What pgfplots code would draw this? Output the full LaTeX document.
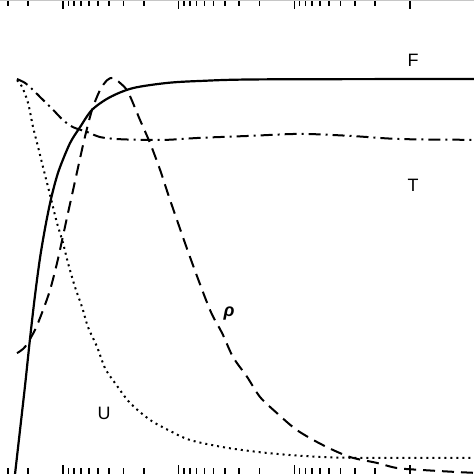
\documentclass[border=0pt]{standalone}
\usepackage{pgfplots}
\pgfplotsset{compat=1.18}
\usepackage{fontspec}
\setmainfont{Liberation Sans}
\begin{document}
\begin{tikzpicture}
\begin{axis}[
  scale only axis, width=474bp, height=474bp,
  xmin=-0.553, xmax=3.545, ymin=0, ymax=1.2, x dir=reverse,
  axis line style={draw=none},
  xtick={0,1,2,3},
  minor xtick={0.301,0.477,0.602,0.699,0.778,0.845,0.903,0.954,
               1.301,1.477,1.602,1.699,1.778,1.845,1.903,1.954,
               2.301,2.477,2.602,2.699,2.778,2.845,2.903,2.954,
               3.301,3.477},
  xticklabels={}, ytick=\empty,
  xtick pos=both, tick align=inside,
  major tick length=9bp, minor tick length=6bp,
  every tick/.style={black, line width=1.6bp},
  clip=true,
]
% F (solid)
\addplot[black, line width=2.2bp, smooth] coordinates {
(3.415,0) (3.372,0.111) (3.328,0.225) (3.285,0.344) (3.242,0.453) (3.199,0.547)
(3.155,0.623) (3.112,0.686) (3.069,0.737) (3.026,0.777) (2.939,0.838) (2.853,0.878)
(2.749,0.922) (2.594,0.954) (2.395,0.977) (2.101,0.990) (1.816,0.995) (1.297,0.999) (-0.553,1.0)};
% rho (dashed)
\addplot[black, line width=2bp, smooth, dash pattern=on 12bp off 7bp] coordinates {
(3.398,0.306) (3.328,0.322) (3.242,0.365) (3.173,0.415) (3.112,0.466) (3.052,0.534)
(3.008,0.592) (2.957,0.661) (2.913,0.719) (2.862,0.787) (2.811,0.853) (2.749,0.922)
(2.680,0.972) (2.619,0.997) (2.567,1.003) (2.507,0.990) (2.438,0.967) (2.334,0.896)
(2.248,0.838) (2.161,0.770) (2.075,0.694) (1.902,0.549) (1.729,0.415) (1.625,0.357)
(1.530,0.296) (1.409,0.246) (1.297,0.195) (1.150,0.154) (0.977,0.111) (0.752,0.073)
(0.519,0.043) (0.285,0.028) (0.112,0.015) (-0.112,0.010) (-0.406,0.005) (-0.553,0.003)};
% U (dotted)
\addplot[black, line width=2bp, smooth, dash pattern=on 2bp off 4bp] coordinates {
(3.398,0.997) (3.354,0.980) (3.302,0.939) (3.259,0.878) (3.216,0.828) (3.173,0.777)
(3.130,0.727) (3.095,0.686) (3.052,0.635) (3.000,0.585) (2.957,0.534) (2.896,0.473)
(2.836,0.423) (2.784,0.372) (2.706,0.322) (2.637,0.268) (2.550,0.230) (2.421,0.180)
(2.248,0.137) (2.075,0.109) (1.902,0.086) (1.617,0.068) (1.323,0.056) (1.037,0.048)
(0.752,0.043) (0.458,0.041) (-0.553,0.041)};
% T (dash-dot)
\addplot[black, line width=2bp, smooth, dash pattern=on 12bp off 5bp on 2bp off 5bp] coordinates {
(3.398,1.0) (3.328,0.990) (3.259,0.972) (3.173,0.947) (3.086,0.922) (3.000,0.896)
(2.913,0.878) (2.792,0.866) (2.680,0.853) (2.533,0.848) (2.334,0.846) (2.101,0.846)
(1.816,0.851) (1.383,0.856) (0.951,0.861) (0.519,0.856) (0.086,0.848) (-0.553,0.846)};
\node[font=\fontsize{18}{20}\selectfont] at (axis cs:-0.026,1.046) {F};
\node[font=\fontsize{18}{20}\selectfont] at (axis cs:-0.026,0.732) {T};
\node[font=\fontsize{18}{20}\selectfont\bfseries\itshape] at (axis cs:1.565,0.405) {ρ};
\node[font=\fontsize{18}{20}\selectfont] at (axis cs:2.645,0.154) {U};
\end{axis}
\draw[gray!45, line width=2.5bp] (current axis.north west) -- (current axis.north east);
\pgfresetboundingbox
\path[use as bounding box] (current axis.south west) rectangle (current axis.north east);
\end{tikzpicture}
\end{document}
